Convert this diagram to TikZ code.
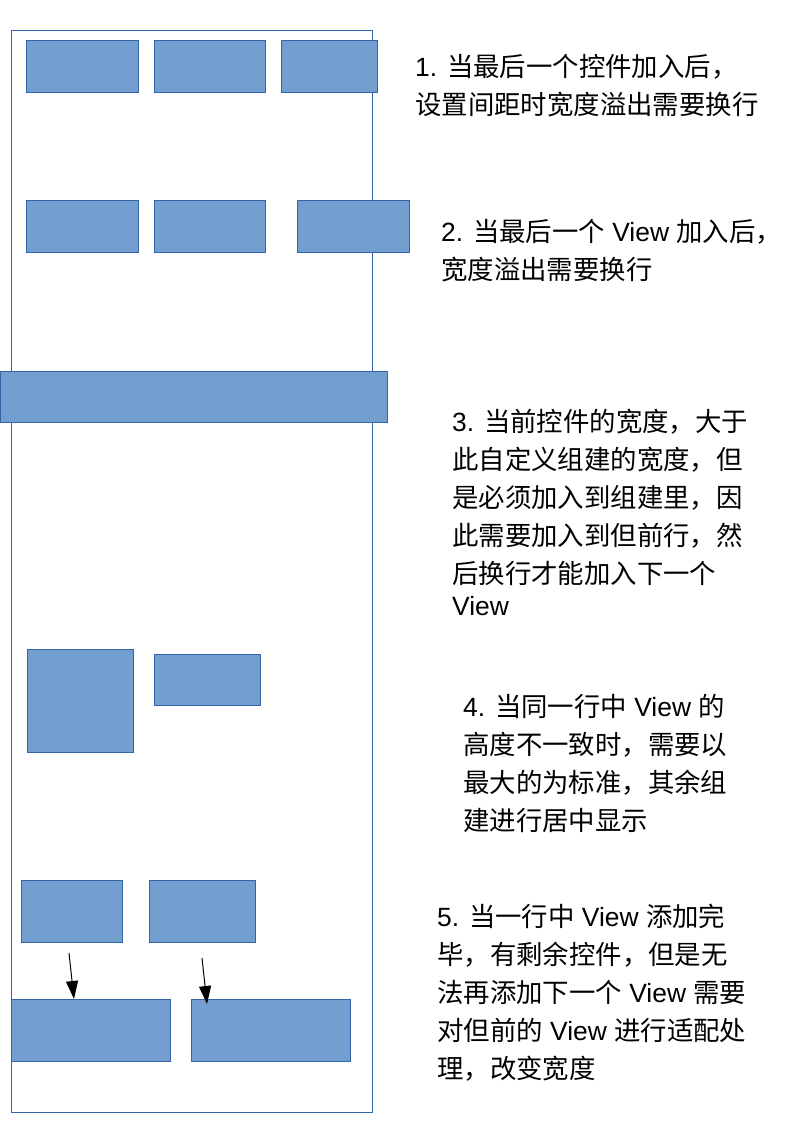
\documentclass[tikz,border=0pt]{standalone}
\usepackage{fontspec}
\setmainfont{Noto Sans CJK SC}
\newfontfamily\lat{Liberation Sans}
\usetikzlibrary{arrows.meta}
\definecolor{viewfill}{HTML}{729FCF}
\definecolor{viewline}{HTML}{3465A4}

\begin{document}
\begin{tikzpicture}[x=1pt,y=-1pt]
	\tikzset{>={Triangle[length=18pt,width=12pt]}}
	\tikzset{view/.style={draw=viewline,fill=viewfill,line width=1pt},
		note/.style={anchor=north west,inner sep=0pt,align=left,font=\fontsize{26.4}{38}\selectfont}}
	\useasboundingbox (0,0) rectangle (794,1123);
	% the custom layout
	\draw[viewline,line width=1pt] (11,31) rectangle (372,1112);
	% row 1
	\draw[view] (26,41) rectangle (138,93);
	\draw[view] (154,41) rectangle (265,93);
	\draw[view] (281,41) rectangle (377,93);
	% row 2
	\draw[view] (26,201) rectangle (138,252);
	\draw[view] (154,201) rectangle (265,252);
	\draw[view] (297,201) rectangle (409,252);
	% row 3
	\draw[view] (0,371) rectangle (387,422);
	% row 4
	\draw[view] (27,649) rectangle (133,752);
	\draw[view] (154,654) rectangle (260,705);
	% row 5
	\draw[view] (21,880) rectangle (122,942);
	\draw[view] (149,880) rectangle (255,942);
	\draw[view] (11,999) rectangle (170,1061);
	\draw[view] (191,999) rectangle (350,1061);
	\coordinate (a1) at (69,953);
	\coordinate (b1) at (74,999);
	\coordinate (a2) at (202,958);
	\coordinate (b2) at (207,1004);
	\draw[->,line width=1pt] (a1)--(b1);
	\draw[->,line width=1pt] (a2)--(b2);
	% notes
	\node[note] (n1) at (415,54) {{\lat 1. }当最后一个控件加入后，\\设置间距时宽度溢出需要换行};
	\node[note] (n2) at (441,219) {{\lat 2. }当最后一个{\lat\ View }加入后，\\宽度溢出需要换行};
	\node[note] (n3) at (452,409) {{\lat 3. }当前控件的宽度，大于\\此自定义组建的宽度，但\\是必须加入到组建里，因\\此需要加入到但前行，然\\后换行才能加入下一个\\[-6pt]{\lat View}};
	\node[note] (n4) at (463,694) {{\lat 4. }当同一行中{\lat\ View }的\\高度不一致时，需要以\\最大的为标准，其余组\\建进行居中显示};
	\node[note] (n5) at (437,904) {{\lat 5. }当一行中{\lat\ View }添加完\\毕，有剩余控件，但是无\\法再添加下一个{\lat\ View }需要\\对但前的{\lat\ View }进行适配处\\理，改变宽度};
\end{tikzpicture}
\end{document}
